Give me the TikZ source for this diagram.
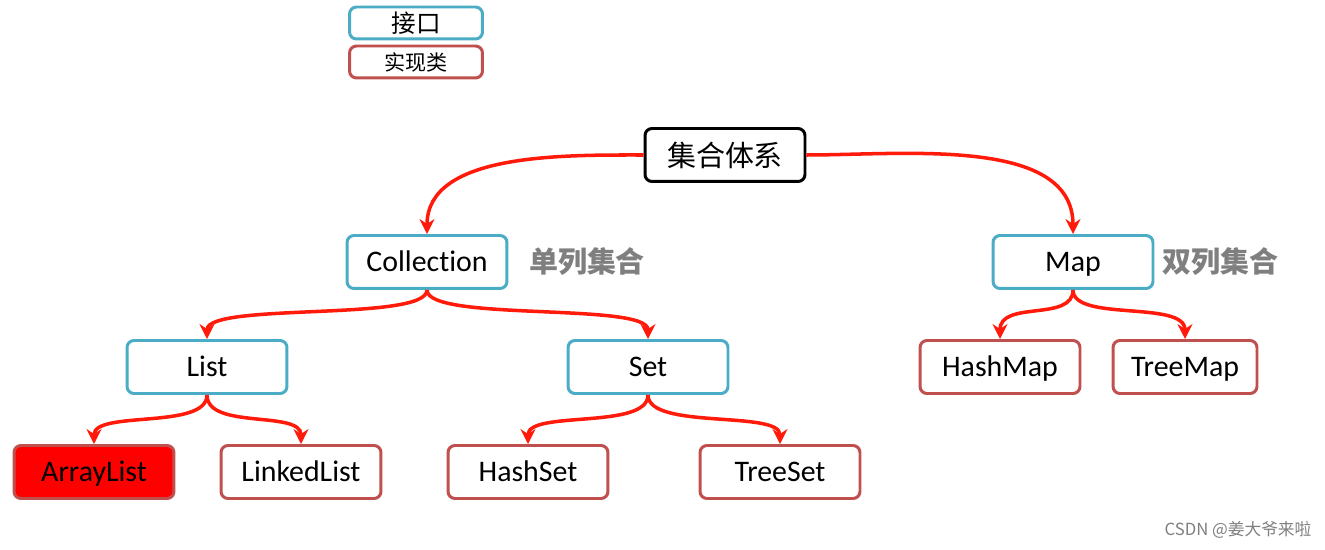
\documentclass[tikz,border=0pt]{standalone}
\usepackage{fontspec}
\setmainfont{Carlito}[Ligatures={NoCommon}]
\newfontfamily\cjk{Noto Sans CJK SC}
\usetikzlibrary{arrows.meta}
\definecolor{ifblue}{HTML}{4BACC6}
\definecolor{imred}{HTML}{C0504D}
\definecolor{arrred}{HTML}{FF1A0A}
\definecolor{labgray}{HTML}{7F7F7F}
\begin{document}
\begin{tikzpicture}[x=0.02cm,y=-0.02cm,
  box/.style={draw, line width=1.7pt, rounded corners=4pt, fill=white, minimum width=3.2cm, minimum height=1.06cm, inner sep=0pt, text height=13.5pt, text depth=2.5pt, font=\fontsize{17}{20}\selectfont},
  ifbox/.style={box, draw=ifblue},
  imbox/.style={box, draw=imred},
  conn/.style={draw=arrred, line width=2pt, -{Stealth[length=8.5pt,width=8.5pt]}},
  grp/.style={font=\cjk\bfseries\fontsize{16.5}{18}\selectfont, text=labgray}
]
\useasboundingbox (0,0) rectangle (1325,550);
% legend
\node[ifbox, minimum width=2.66cm, minimum height=0.64cm, text height=, text depth=, font=\cjk\fontsize{14}{16}\selectfont] (lif) at (416,23) {接口};
\node[imbox, minimum width=2.66cm, minimum height=0.64cm, text height=, text depth=, font=\cjk\fontsize{12}{14}\selectfont] (lim) at (416,62) {实现类};
% nodes
\node[box, draw=black, text height=, text depth=, font=\cjk\fontsize{16.5}{18}\selectfont] (root) at (725,155) {集合体系};
\node[ifbox] (coll) at (427,262) {Collection};
\node[ifbox] (map) at (1073,262) {Map};
\node[grp] (g1) at (587,262) {单列集合};
\node[grp] (g2) at (1220,262) {双列集合};
\node[ifbox] (list) at (207,367) {List};
\node[ifbox] (set) at (648,367) {Set};
\node[imbox] (hmap) at (1000,367) {HashMap};
\node[imbox, minimum width=2.88cm] (tmap) at (1185,367) {TreeMap};
\node[imbox, fill=red] (alist) at (94,472) {ArrayList};
\node[imbox] (llist) at (301,472) {LinkedList};
\node[imbox] (hset) at (528,472) {HashSet};
\node[imbox] (tset) at (780,472) {TreeSet};
\node[font=\cjk\fontsize{9.5}{11}\selectfont, text=labgray] (wm) at (1238,530) {CSDN @姜大爷来啦};
% connectors
\draw[conn] (root.west) to[out=180,in=90,looseness=0.9] (coll.north);
\draw[conn] (root.east) to[out=0,in=90,looseness=0.9] (map.north);
\draw[conn] (coll.south) .. controls (427,322) and (207,302) .. (list.north);
\draw[conn] (coll.south) .. controls (427,322) and (648,302) .. (set.north);
\draw[conn] (list.south) .. controls (207,430) and (94,410) .. (alist.north);
\draw[conn] (list.south) .. controls (207,430) and (301,410) .. (llist.north);
\draw[conn] (set.south) .. controls (648,430) and (528,410) .. (hset.north);
\draw[conn] (set.south) .. controls (648,430) and (780,410) .. (tset.north);
\draw[conn] (map.south) .. controls (1073,322) and (1000,300) .. (hmap.north);
\draw[conn] (map.south) .. controls (1073,322) and (1185,300) .. (tmap.north);
\end{tikzpicture}
\end{document}
